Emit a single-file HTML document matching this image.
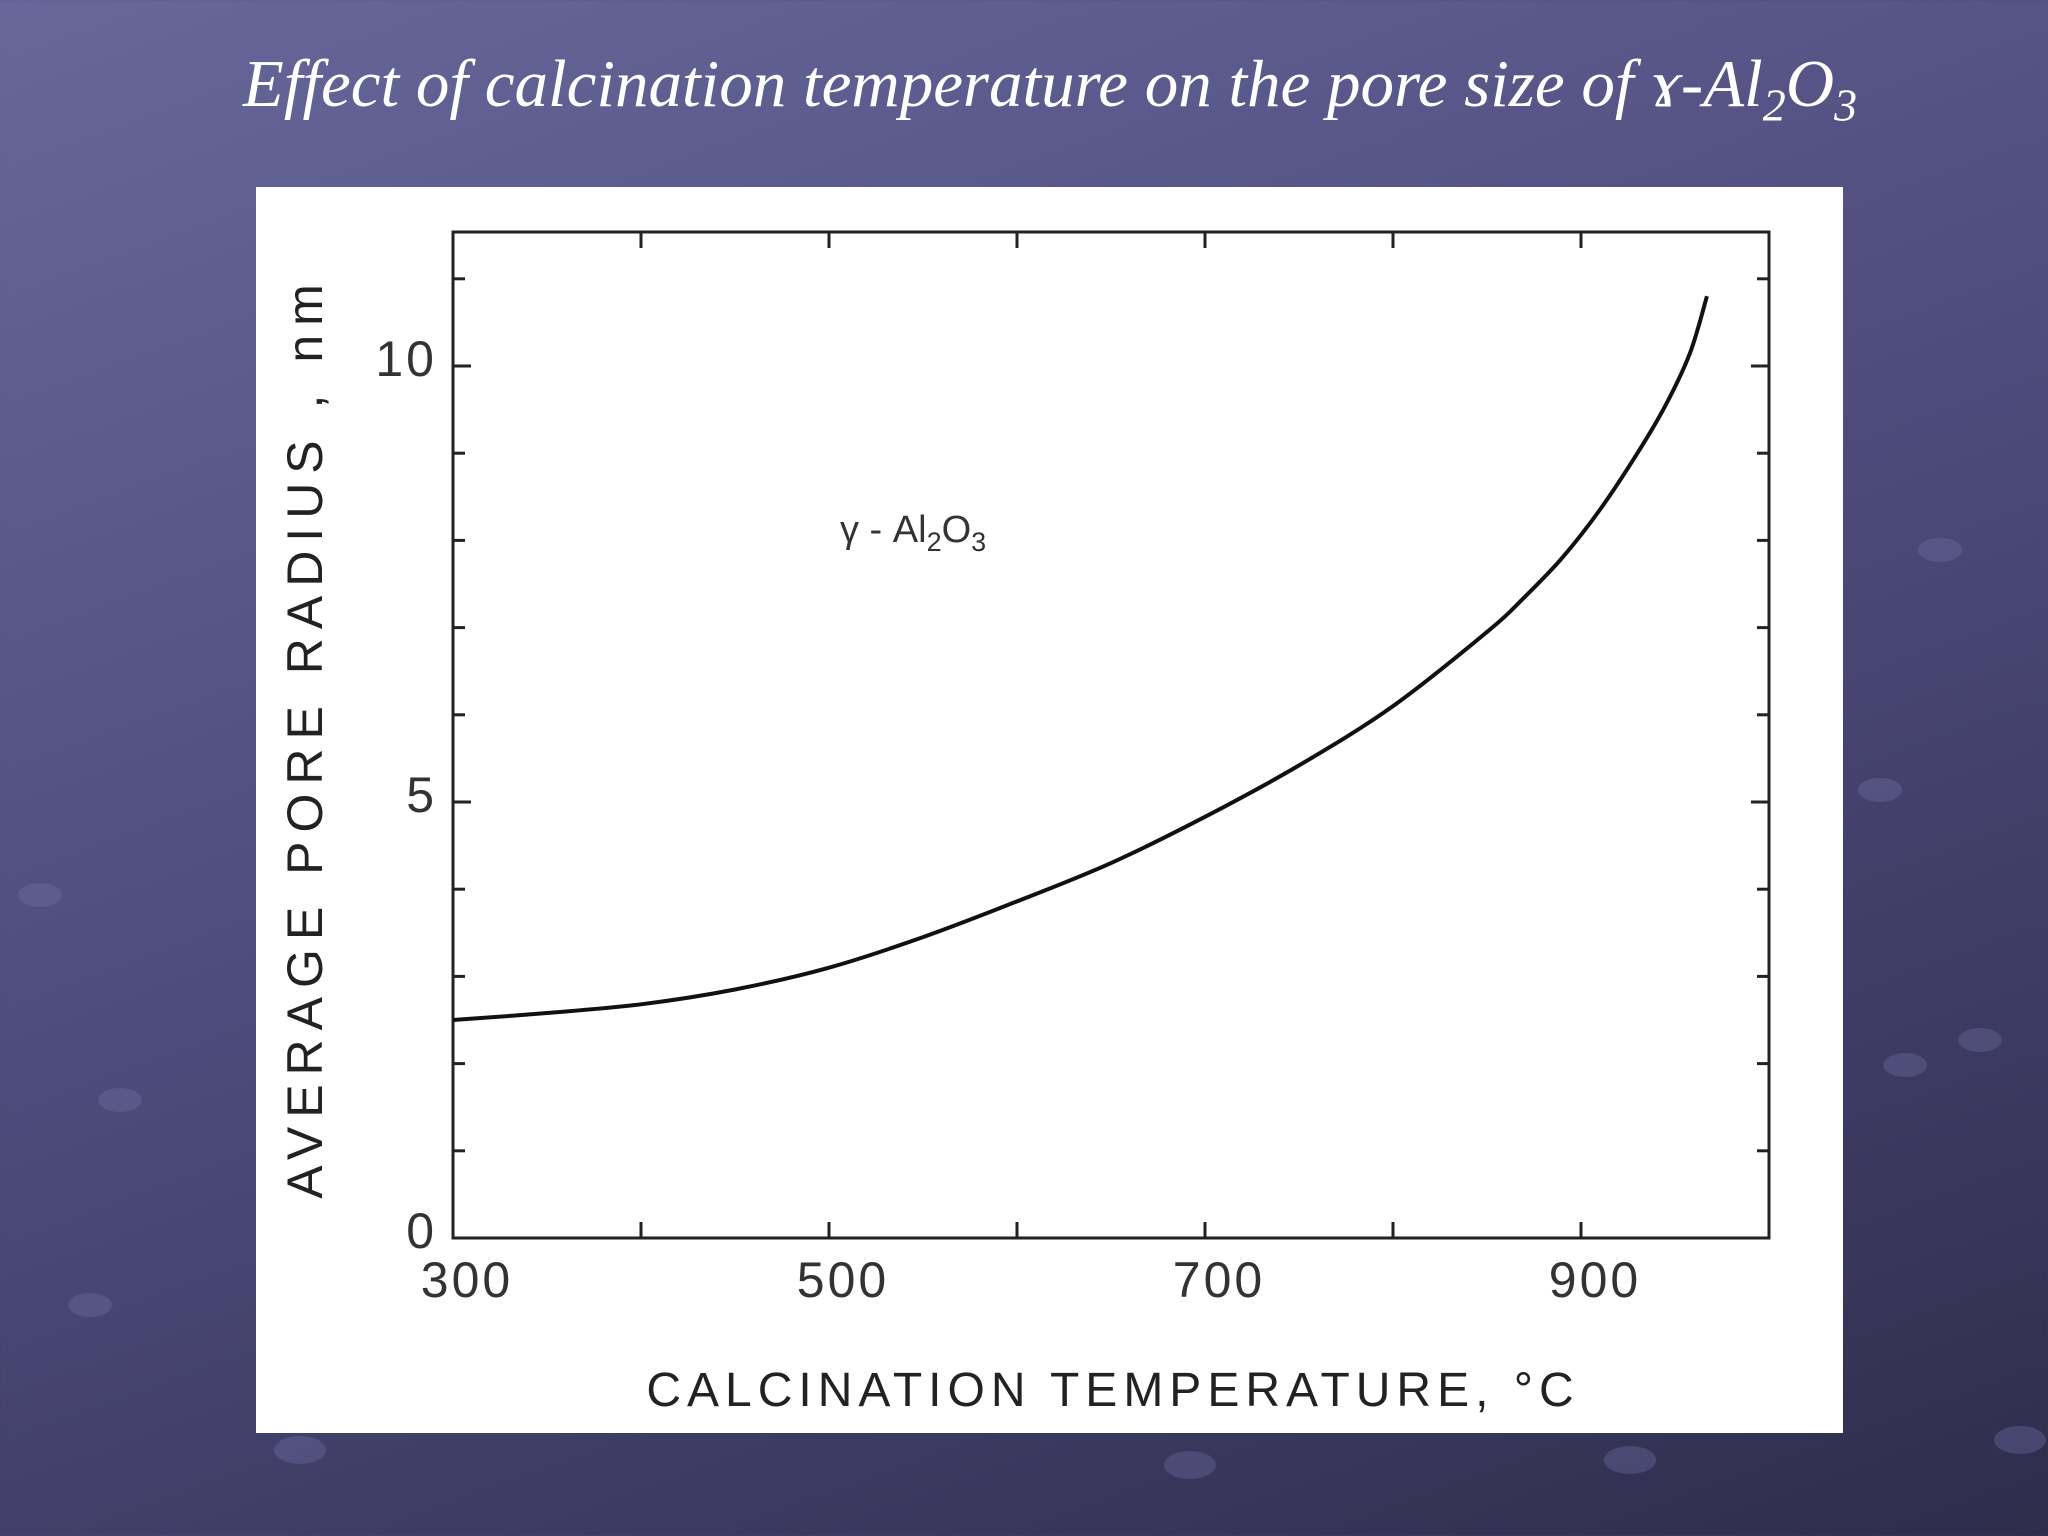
<!DOCTYPE html>
<html><head><meta charset="utf-8"><style>
html,body{margin:0;padding:0}
body{width:2048px;height:1536px;overflow:hidden;background:linear-gradient(160deg,#67679a 0%,#4f4d7e 45%,#2f2d4c 100%);position:relative;font-family:"Liberation Sans",sans-serif}
#title{position:absolute;left:26px;width:2048px;top:46px;text-align:center;color:#fff;font-family:"Liberation Serif",serif;font-style:italic;font-size:67px}
#title sub{font-size:46px}
</style></head><body>
<div id="title">Effect of calcination temperature on the pore size of ɤ-Al<sub>2</sub>O<sub>3</sub></div>
<svg id="chart" width="2048" height="1536" style="position:absolute;left:0;top:0">
<g fill="#7474a8" opacity="0.35">
<ellipse cx="40" cy="895" rx="22" ry="12"/><ellipse cx="120" cy="1100" rx="22" ry="12"/><ellipse cx="90" cy="1305" rx="22" ry="12"/><ellipse cx="1940" cy="550" rx="22" ry="12"/><ellipse cx="1905" cy="1065" rx="22" ry="12"/><ellipse cx="1980" cy="1040" rx="22" ry="12"/><ellipse cx="1630" cy="1460" rx="26" ry="14"/><ellipse cx="1190" cy="1465" rx="26" ry="14"/><ellipse cx="300" cy="1450" rx="26" ry="14"/><ellipse cx="2020" cy="1440" rx="26" ry="14"/><ellipse cx="1880" cy="790" rx="22" ry="12"/>
</g>
<rect x="256" y="187" width="1587" height="1246" fill="#fff"/>
<g id="axes"></g>
<path id="curve" fill="none" stroke="#111" stroke-width="4"/>
<text x="840" y="542" font-size="38" fill="#333" font-family="Liberation Sans,sans-serif">γ - Al<tspan font-size="27" dy="9">2</tspan><tspan dy="-9">O</tspan><tspan font-size="27" dy="9">3</tspan></text>
<text x="1113" y="1406" text-anchor="middle" font-size="48" fill="#222" letter-spacing="6">CALCINATION  TEMPERATURE, °C</text>
<text transform="translate(322,737) rotate(-90)" text-anchor="middle" font-size="50" fill="#222" letter-spacing="9">AVERAGE PORE RADIUS , nm</text>
</svg>
<script>
const temps=[300,350,400,450,500,550,600,650,700,750,800,850,870,890,910,930,945,958,967];
const radius=[2.5,2.58,2.68,2.85,3.1,3.45,3.86,4.3,4.83,5.42,6.1,6.95,7.35,7.8,8.35,9.0,9.55,10.15,10.8];
const xTicks=[300,400,500,600,700,800,900,1000];
const xLabels=[300,500,700,900];
const yTicks=[0,1,2,3,4,5,6,7,8,9,10,11];
const yLabels=[0,5,10];
const L=453,R=1769,T=232,B=1238;
const xs=v=>L+(v-300)/700*(R-L);
const ys=v=>B-v*87.2;
const ns="http://www.w3.org/2000/svg";
const ax=document.getElementById('axes');
function mk(t,a,p){const e=document.createElementNS(ns,t);for(const k in a)e.setAttribute(k,a[k]);(p||ax).appendChild(e);return e;}
const frame=mk('rect',{x:L,y:T,width:R-L,height:B-T,fill:'none',stroke:'#222','stroke-width':3});


xTicks.forEach(v=>{
 const t1=mk('line',{x1:xs(v),x2:xs(v),y1:B,y2:B-16,stroke:'#222','stroke-width':3});
 
 
 const t2=mk('line',{x1:xs(v),x2:xs(v),y1:T,y2:T+16,stroke:'#222','stroke-width':3});
 
 
});
xLabels.forEach(v=>{
 const t=mk('text',{x:xs(v)+14,y:1297,'text-anchor':'middle','font-size':50,fill:'#333','letter-spacing':3});
 t.textContent=v;
 
 
});
yTicks.forEach(v=>{
 const len=v%5===0?18:12;
 const t1=mk('line',{x1:L,x2:L+len,y1:ys(v),y2:ys(v),stroke:'#222','stroke-width':3});
 
 
 const t2=mk('line',{x1:R,x2:R-len,y1:ys(v),y2:ys(v),stroke:'#222','stroke-width':3});
 
 
});
yLabels.forEach(v=>{
 const t=mk('text',{x:437,y:ys(v)+10,'text-anchor':'end','font-size':50,fill:'#333','letter-spacing':3});
 t.textContent=v;
 
 
});
const P=temps.map((t,i)=>[xs(t),ys(radius[i])]);
let d='M'+P[0][0]+','+P[0][1];
for(let i=0;i<P.length-1;i++){
 const p0=P[i-1]||P[i],p1=P[i],p2=P[i+1],p3=P[i+2]||p2;
 d+=' C'+(p1[0]+(p2[0]-p0[0])/6)+','+(p1[1]+(p2[1]-p0[1])/6)+' '+(p2[0]-(p3[0]-p1[0])/6)+','+(p2[1]-(p3[1]-p1[1])/6)+' '+p2[0]+','+p2[1];
}
document.getElementById('curve').setAttribute('d',d);
</script>
</body></html>
